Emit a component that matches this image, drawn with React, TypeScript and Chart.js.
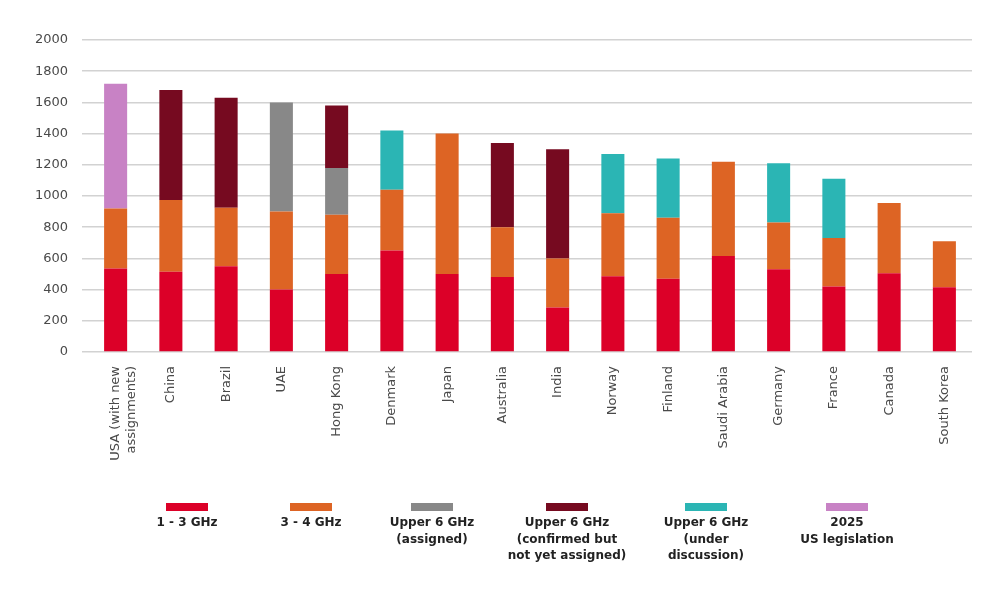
import React, { useEffect, useRef } from "react";
import { Chart, registerables } from "chart.js";

Chart.register(...registerables);

const categories: (string | string[])[] = [
  ["USA (with new", "assignments)"],
  "China",
  "Brazil",
  "UAE",
  "Hong Kong",
  "Denmark",
  "Japan",
  "Australia",
  "India",
  "Norway",
  "Finland",
  "Saudi Arabia",
  "Germany",
  "France",
  "Canada",
  "South Korea",
];

const band1to3 = [535, 515, 550, 400, 500, 650, 500, 480, 285, 485, 470, 615, 530, 420, 505, 415];
const band3to4 = [385, 460, 375, 500, 380, 390, 900, 320, 315, 405, 390, 605, 300, 310, 450, 295];
const upper6Assigned = [0, 0, 0, 700, 300, 0, 0, 0, 0, 0, 0, 0, 0, 0, 0, 0];
const upper6Confirmed = [0, 705, 705, 0, 400, 0, 0, 540, 700, 0, 0, 0, 0, 0, 0, 0];
const upper6Discussion = [0, 0, 0, 0, 0, 380, 0, 0, 0, 380, 380, 0, 380, 380, 0, 0];
const usLegislation2025 = [800, 0, 0, 0, 0, 0, 0, 0, 0, 0, 0, 0, 0, 0, 0, 0];

const seriesNames: string[][] = [
  ["1 - 3 GHz"],
  ["3 - 4 GHz"],
  ["Upper 6 GHz", "(assigned)"],
  ["Upper 6 GHz", "(confirmed but", "not yet assigned)"],
  ["Upper 6 GHz", "(under", "discussion)"],
  ["2025", "US legislation"],
];
const seriesColors = ["#DC0028", "#DD6424", "#888888", "#760A20", "#2BB5B4", "#C882C5"];
const seriesData = [band1to3, band3to4, upper6Assigned, upper6Confirmed, upper6Discussion, usLegislation2025];

const yTicks = [0, 200, 400, 600, 800, 1000, 1200, 1400, 1600, 1800, 2000];

const legendCenters = [187, 311, 432, 567, 706, 847];

export default function App() {
  const canvasRef = useRef<HTMLCanvasElement | null>(null);

  useEffect(() => {
    document.body.style.margin = "0";
    const ctx = canvasRef.current;
    if (!ctx) return;
    const chart = new Chart(ctx, {
      type: "bar",
      data: {
        labels: categories,
        datasets: seriesData.map((d, i) => ({
          label: seriesNames[i].join(" "),
          data: d.map((v) => (v === 0 ? null : v)),
          backgroundColor: seriesColors[i],
          borderWidth: 0,
          barPercentage: 0.417,
          categoryPercentage: 1,
        })),
      },
      options: {
        animation: false,
        responsive: false,
        maintainAspectRatio: false,
        layout: { padding: { top: 40, right: 32, bottom: 0, left: 0 } },
        plugins: { legend: { display: false }, tooltip: { enabled: false } },
        scales: {
          x: {
            stacked: true,
            grid: { display: false, drawTicks: false },
            border: { display: false },
            ticks: {
              autoSkip: false,
              minRotation: 90,
              maxRotation: 90,
              padding: 14,
              color: "#4a4a4a",
              font: { family: "DejaVu Sans", size: 13 },
            },
            afterFit: (scale: any) => {
              scale.height = 248;
            },
          },
          y: {
            stacked: true,
            min: 0,
            max: 2000,
            afterBuildTicks: (scale: any) => {
              scale.ticks = yTicks.map((v) => ({ value: v }));
            },
            grid: { color: "#d2d2d2", lineWidth: 1.5, tickLength: 6, drawTicks: true },
            border: { display: false },
            ticks: {
              padding: 14,
              color: "#4a4a4a",
              font: { family: "DejaVu Sans", size: 13 },
              callback: (v: any) => String(v),
            },
            afterFit: (scale: any) => {
              scale.width = 88;
            },
          },
        },
      },
    });
    return () => chart.destroy();
  }, []);

  return (
    <div style={{ position: "absolute", left: 0, top: 0, width: 1004, height: 600, background: "#fff" }}>
      <canvas ref={canvasRef} width={1004} height={600} style={{ position: "absolute", left: 0, top: 0 }} />
      {seriesNames.map((lines, i) => (
        <div
          key={i}
          style={{
            position: "absolute",
            left: legendCenters[i] - 80,
            width: 160,
            top: 503,
            textAlign: "center",
            fontFamily: "DejaVu Sans",
            fontWeight: 700,
            fontSize: 12,
            lineHeight: "16.5px",
            color: "#222",
          }}
        >
          <div style={{ width: 42, height: 8, background: seriesColors[i], margin: "0 auto 3px auto" }} />
          {lines.map((l, j) => (
            <div key={j}>{l}</div>
          ))}
        </div>
      ))}
    </div>
  );
}
